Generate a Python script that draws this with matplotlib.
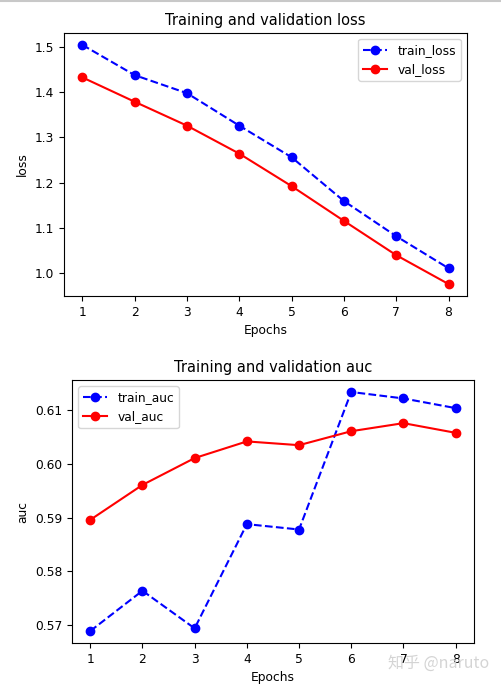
import matplotlib.pyplot as plt
from matplotlib.lines import Line2D

epochs = [1, 2, 3, 4, 5, 6, 7, 8]
train_loss = [1.505, 1.438, 1.398, 1.326, 1.256, 1.159, 1.081, 1.010]
val_loss = [1.433, 1.379, 1.326, 1.264, 1.192, 1.115, 1.039, 0.975]
train_auc = [0.5689, 0.5764, 0.5694, 0.5888, 0.5878, 0.6134, 0.6122, 0.6104]
val_auc = [0.5896, 0.5961, 0.6011, 0.6042, 0.6035, 0.6061, 0.6076, 0.6058]

plt.rcParams['font.size'] = 8.8

fig = plt.figure(figsize=(5.02, 6.86), dpi=100)

# top: loss
ax1 = fig.add_axes([0.1275, 0.5685, 0.8025, 0.3835])
ax1.plot(epochs, train_loss, 'bo--', label='train_loss')
ax1.plot(epochs, val_loss, 'ro-', label='val_loss')
ax1.set_title('Training and validation loss')
ax1.set_xlabel('Epochs')
ax1.set_ylabel('loss')
ax1.legend(loc='upper right')

# bottom: auc
ax2 = fig.add_axes([0.1434, 0.0627, 0.8006, 0.3833])
ax2.plot(epochs, train_auc, 'bo--', label='train_auc')
ax2.plot(epochs, val_auc, 'ro-', label='val_auc')
ax2.set_title('Training and validation auc')
ax2.set_xlabel('Epochs')
ax2.set_ylabel('auc')
ax2.legend(loc='upper left')

# thin border line at the very top of the screenshot
fig.add_artist(Line2D([0, 1], [0.998, 0.998], color='#c8c8c8', lw=1.5))

# watermark
fig.text(0.975, 0.033, '知乎 @naruto', ha='right', va='center', fontsize=11.5,
         color='#d0d0d0', alpha=0.9, family=['Noto Sans CJK SC', 'DejaVu Sans'])

fig.savefig('out.png', dpi=100)
